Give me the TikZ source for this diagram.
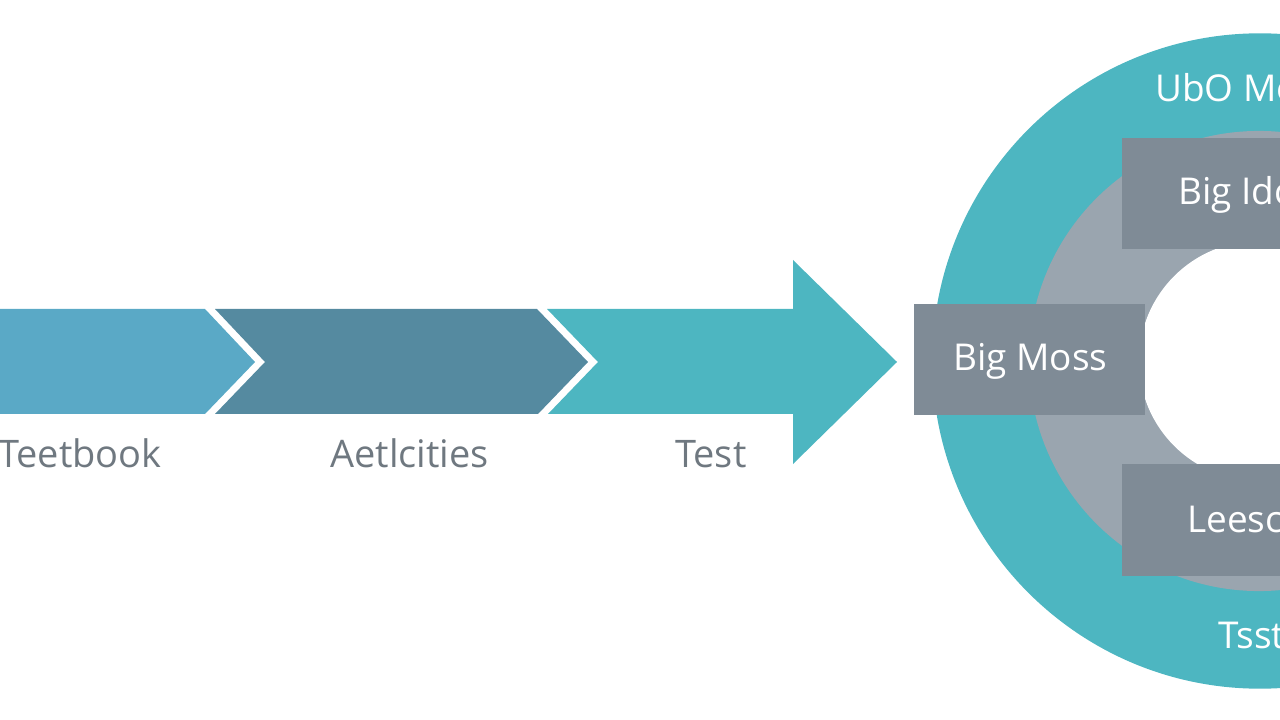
\documentclass[tikz,border=0pt]{standalone}
\usepackage{fontspec}
\setmainfont{Open Sans}
\definecolor{ringteal}{HTML}{4DB6C1}
\definecolor{ringgrey}{HTML}{9AA5AF}
\definecolor{boxgrey}{HTML}{7F8B96}
\definecolor{steplight}{HTML}{5AA9C6}
\definecolor{stepdark}{HTML}{558AA0}
\definecolor{labelgrey}{HTML}{6F7880}
\begin{document}
\begin{tikzpicture}[x=0.025cm,y=-0.025cm,
    every node/.style={inner sep=0pt, font=\fontsize{26.3}{30}\selectfont},
    greybox/.style={rectangle, fill=boxgrey, minimum width=5.775cm, minimum height=2.78cm},
    boxlabel/.style={anchor=base west, text=white},
    steplabel/.style={anchor=base west, text=labelgrey, font=\fontsize{27}{30}\selectfont}]
            \useasboundingbox (0,0) rectangle (1280,720);
            \clip (0,0) rectangle (1280,720);
            % arrow
            \fill[steplight] (-5,309) -- (205,309) -- (255,362) -- (205,414) -- (-5,414) -- cycle;
            \fill[stepdark] (215,309) -- (537,309) -- (588,362) -- (538,414) -- (215,414) -- (265,362) -- cycle;
            \fill[ringteal] (547,309) -- (793,309) -- (793,260) -- (897,362) -- (793,464) -- (793,414) -- (548,414) -- (598,362) -- cycle;
            \node[steplabel] (textbook) at (-2,467) {Teetbook};
            \node[steplabel] (activities) at (330,467) {Aetlcities};
            \node[steplabel] (test) at (675,467) {Test};
            % rings
            \fill[ringteal] (1260,361) circle [radius=8.19cm];
            \fill[ringgrey] (1259,361) circle [radius=5.75cm];
            \fill[white] (1259,361) circle [radius=3cm];
            \node[boxlabel] (outer) at (1155,102) {UbO Me};
            \node[boxlabel] (tsst) at (1218,648) {Tsst};
            % boxes
            \node[greybox] (moss) at (1029.5,359.5) {};
            \node[greybox] (idea) at (1237.5,193.5) {};
            \node[greybox] (lesson) at (1237.5,520) {};
            \node[boxlabel] at (953,371) {Big Moss};
            \node[boxlabel] at (1178,205) {Big Idc};
            \node[boxlabel] at (1187,532) {Leesc};
        \end{tikzpicture}
\end{document}
